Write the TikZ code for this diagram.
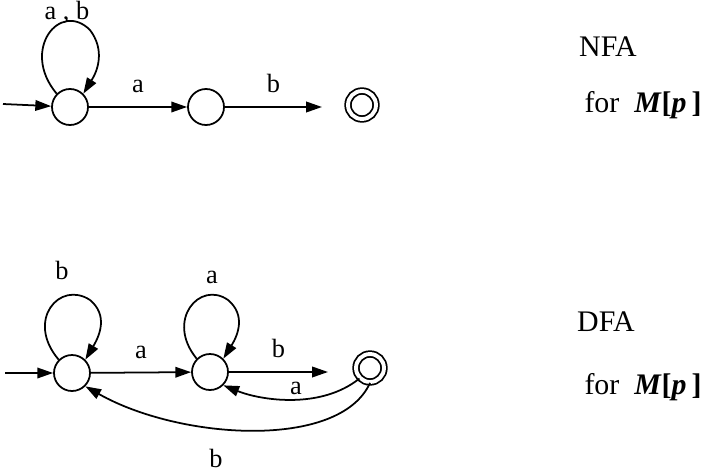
\documentclass[tikz,border=0pt]{standalone}
\usepackage{fontspec}
\setmainfont{Liberation Serif}
\usetikzlibrary{arrows.meta}
\begin{document}
\begin{tikzpicture}[x=0.02cm,y=-0.02cm,
  st/.style={circle,draw,line width=1pt,minimum size=0.72cm,inner sep=0pt},
  fin/.style={st,double,double distance=2.2pt,minimum size=0.56cm},
  ar/.style={line width=1pt,-{Triangle[length=9pt,width=6pt]}},
  lb/.style={font=\fontsize{15pt}{15pt}\selectfont},
  big/.style={font=\fontsize{17pt}{17pt}\selectfont}]
\useasboundingbox (0,0) rectangle (720,470);
% NFA
\node[st] (n1) at (70,107) {};
\node[st] (n2) at (206,107) {};
\node[fin] (n3) at (362,105) {};
\coordinate (ns) at (3,104);
\coordinate (nb) at (322,107);
\draw[ar] (ns) -- (n1);
\draw[ar] (n1.north west) .. controls (20,50) and (60,0) .. (90,30) .. controls (105,50) and (98,70) .. (n1.north east);
\node[lb] (l1) at (67,12) {a , b};
\draw[ar] (n1) -- node[lb,above=4pt]{a} (n2);
\draw[ar] (n2) -- node[lb,above=4pt]{b} (nb);
\node[big] (t1) at (608,47) {NFA};
\node[big] (t2) at (643,105) {for \ \textbf{\textit{M}[\textit{p}\,]}};
% DFA
\node[st] (d1) at (72,373) {};
\node[st] (d2) at (210,372) {};
\node[fin] (d3) at (370,368) {};
\coordinate (ds) at (5,373);
\coordinate (db) at (328,372);
\draw[ar] (ds) -- (d1);
\draw[ar] (d1.north west) .. controls (25,320) and (60,280) .. (90,300) .. controls (108,315) and (100,335) .. (d1.north east);
\node[lb] (l2) at (62,270) {b};
\draw[ar] (d2.north west) .. controls (165,320) and (200,280) .. (228,300) .. controls (246,315) and (238,335) .. (d2.north east);
\node[lb] (l3) at (212,277) {a};
\draw[ar] (d1) -- node[lb,above=4pt]{a} (d2);
\draw[ar] (d2) -- node[lb,above=4pt]{b} (db);
\draw[ar] (d3.south west) .. controls (320,410) and (260,400) .. (d2.south east);
\node[lb] (l4) at (296,388) {a};
\draw[ar] (d3.south) .. controls (340,450) and (180,440) .. (d1.south east);
\node[lb] (l5) at (216,458) {b};
\node[big] (t3) at (606,322) {DFA};
\node[big] (t4) at (643,387) {for \ \textbf{\textit{M}[\textit{p}\,]}};
\end{tikzpicture}
\end{document}
